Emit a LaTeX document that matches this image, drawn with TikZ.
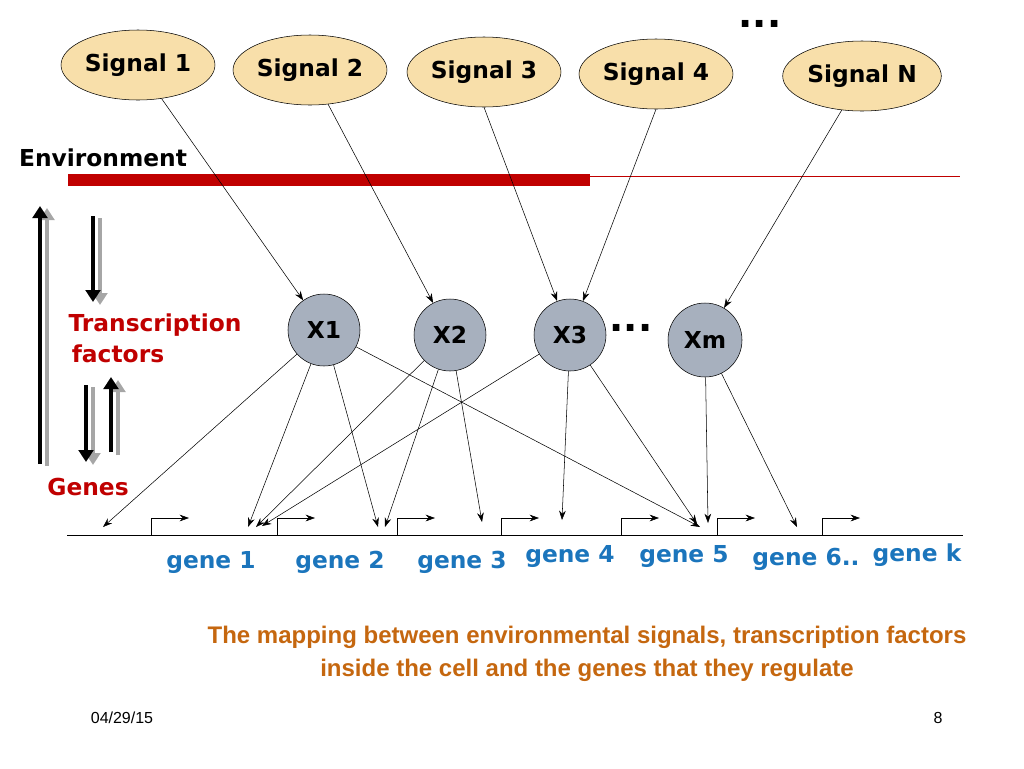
\documentclass[tikz,border=0pt]{standalone}
\usepackage{fontspec}
\setmainfont{DejaVu Sans}
\newfontfamily\capfont{Liberation Sans}
\usetikzlibrary{arrows.meta}
\usetikzlibrary{shapes.geometric}
\definecolor{signalfill}{HTML}{F8DFAA}
\definecolor{tffill}{HTML}{A7B0BE}
\definecolor{envred}{HTML}{C00000}
\definecolor{geneblue}{HTML}{1B75BC}
\definecolor{caporange}{HTML}{C5670F}
\tikzset{
  signal/.style={ellipse, draw, fill=signalfill, minimum width=140pt*0.75, minimum height=70pt*0.75,
                 inner sep=1pt, font=\fontsize{17.5}{20}\selectfont\bfseries},
  tf/.style={circle, draw, fill=tffill, minimum size=72pt*0.75, inner sep=0pt,
             font=\fontsize{17.5}{20}\selectfont\bfseries},
  link/.style={-{Stealth[length=7pt,width=5pt]}, thin},
  genelbl/.style={text=geneblue, font=\fontsize{17.5}{20}\selectfont\bfseries},
  redlbl/.style={text=envred, font=\fontsize{17.5}{20}\selectfont\bfseries},
  fat/.style={line width=3pt, -{Triangle[length=9pt,width=11pt]}},
}
\begin{document}
\begin{tikzpicture}[x=0.75pt, y=-0.75pt]
  \useasboundingbox (0,0) rectangle (1024,768);
  % signals
  \node[signal] (s1) at (138,65) {Signal 1};
  \node[signal, minimum width=145pt*0.75] (s2) at (310,70) {Signal 2};
  \node[signal] (s3) at (484,72) {Signal 3};
  \node[signal] (s4) at (656,74) {Signal 4};
  \node[signal, minimum width=145pt*0.75] (sn) at (862,76) {Signal N};
  \node[font=\fontsize{28}{28}\selectfont\bfseries] (dots1) at (760,24) {...};
  % environment
  \node[font=\fontsize{17.5}{20}\selectfont\bfseries] (env) at (103,158) {Environment};
  \draw[envred, line width=9pt] (68,180) -- (590,180);
  \draw[envred, thin] (590,176) -- (960,176);
  % transcription factors
  \node[tf] (x1) at (324,330) {X1};
  \node[tf] (x2) at (450,335) {X2};
  \node[tf] (x3) at (570,335) {X3};
  \node[tf, minimum size=74pt*0.75] (xm) at (705,340) {Xm};
  \node[font=\fontsize{28}{28}\selectfont\bfseries] (dots2) at (631,328) {...};
  % signal -> tf
  \draw[link] (s1) -- (x1);
  \draw[link] (s2) -- (x2);
  \draw[link] (s3.south) -- (x3);
  \draw[link] (s4.south) -- (x3);
  \draw[link] (sn) -- (xm);
  % left labels and arrows
  \node[redlbl] (tflbl) at (155,325) {Transcription};
  \node[redlbl] (tflbl2) at (118,354) {factors};
  \node[redlbl] (genlbl) at (88,487) {Genes};
  \draw[fat, gray!70] (47,466) -- (47,208);
  \draw[fat] (40,464) -- (40,206);
  \draw[fat, gray!70] (100,218) -- (100,305);
  \draw[fat] (93,216) -- (93,302);
  \draw[fat, gray!70] (93,387) -- (93,465);
  \draw[fat] (86,385) -- (86,462);
  \draw[fat, gray!70] (118,455) -- (118,380);
  \draw[fat] (111,452) -- (111,377);
  % genes
  \draw (67,535) -- (963,535);
  \foreach \gx in {151,277,397,501,621,717,822}
    \draw[-{Stealth[length=7pt,width=5pt]}] (\gx,535) -- (\gx,518) -- (\gx+38,518);
  \node[genelbl] (g1) at (211,563) {gene 1};
  \node[genelbl] (g2) at (340,562) {gene 2};
  \node[genelbl] (g3) at (462,562) {gene 3};
  \node[genelbl] (g4) at (570,557) {gene 4};
  \node[genelbl] (g5) at (684,557) {gene 5};
  \node[genelbl] (g6) at (806,559) {gene 6..};
  \node[genelbl] (gk) at (917,555) {gene k};
  % tf -> gene sites
  \foreach \src/\ex/\ey [count=\i] in {x1/103/527, x1/248/527, x1/378/527, x1/700/527,
      x2/256/527, x2/385/527, x2/482/522, x3/262/526, x3/562/520, x3/697/524,
      xm/708/523, xm/797/527} {
    \coordinate (e\i) at (\ex,\ey);
    \draw[link] (\src) -- (e\i);
  }
  % caption and footer
  \node[text=caporange, font=\capfont\fontsize{18}{24.5}\selectfont\bfseries, align=center] (cap) at (587,654)
    {The mapping between environmental signals, transcription factors\\inside the cell and the genes that they regulate};
  \node[font=\capfont\fontsize{12}{14}\selectfont] (date) at (122,718) {04/29/15};
  \node[font=\capfont\fontsize{12}{14}\selectfont] (page) at (938,718) {8};
\end{tikzpicture}
\end{document}
